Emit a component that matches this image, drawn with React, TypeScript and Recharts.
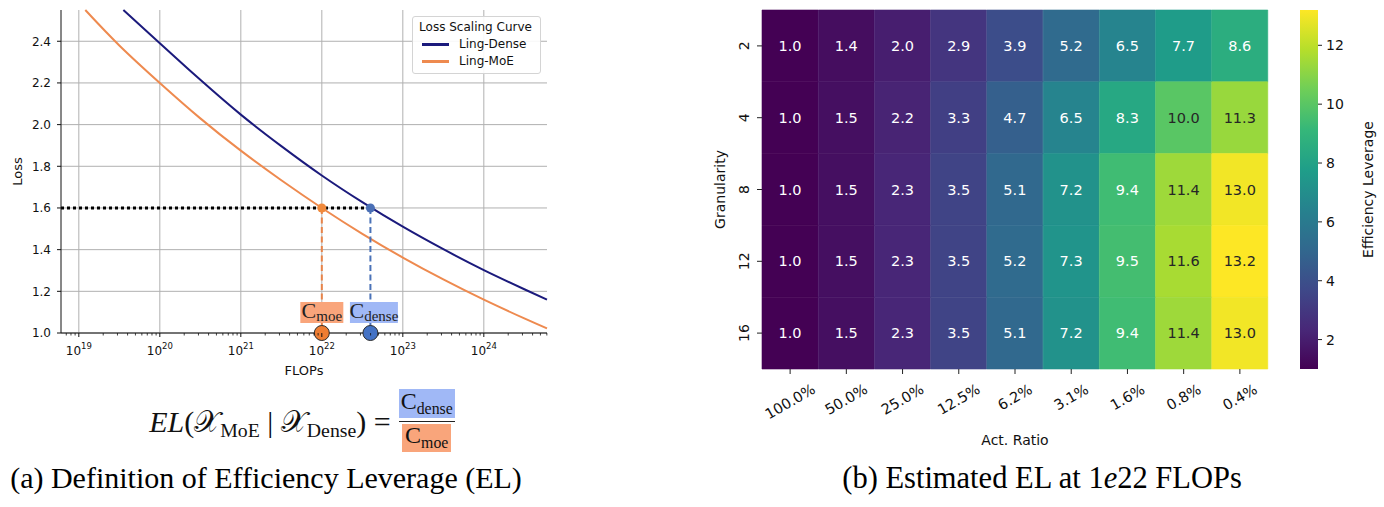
import React from "react";
import {
  ComposedChart,
  Line,
  XAxis,
  YAxis,
  CartesianGrid,
  ReferenceDot,
  Legend,
  BarChart,
  Bar,
  Cell,
  LabelList,
} from "recharts";

// ---- (a) loss scaling curves, x is log10(FLOPs)
const DENSE_LOG_FLOPS = [19.55, 20, 20.5, 21, 21.5, 22, 22.5, 23, 23.5, 24, 24.5, 24.78];
const DENSE_LOSS = [2.55, 2.39, 2.215, 2.048, 1.897, 1.756, 1.628, 1.51, 1.402, 1.302, 1.21, 1.16];
const MOE_LOG_FLOPS = [19.08, 19.5, 20, 20.5, 21, 21.5, 22, 22.5, 23, 23.5, 24, 24.5, 24.78];
const MOE_LOSS = [2.55, 2.38, 2.2, 2.03, 1.875, 1.733, 1.6, 1.476, 1.362, 1.257, 1.16, 1.07, 1.022];
const TARGET_LOSS = 1.6;
const C_MOE_LOG = 22;
const C_DENSE_LOG = 22.6;
const X_DOMAIN = [18.78, 24.78];
const Y_DOMAIN = [1.0, 2.55];
const X_MAJOR = [19, 20, 21, 22, 23, 24];
const Y_TICKS = [1.0, 1.2, 1.4, 1.6, 1.8, 2.0, 2.2, 2.4];

// ---- (b) efficiency leverage heatmap
const ACT_RATIOS = ["100.0%", "50.0%", "25.0%", "12.5%", "6.2%", "3.1%", "1.6%", "0.8%", "0.4%"];
const GRANULARITY = [2, 4, 8, 12, 16];
const EL_G2 = [1.0, 1.4, 2.0, 2.9, 3.9, 5.2, 6.5, 7.7, 8.6];
const EL_G4 = [1.0, 1.5, 2.2, 3.3, 4.7, 6.5, 8.3, 10.0, 11.3];
const EL_G8 = [1.0, 1.5, 2.3, 3.5, 5.1, 7.2, 9.4, 11.4, 13.0];
const EL_G12 = [1.0, 1.5, 2.3, 3.5, 5.2, 7.3, 9.5, 11.6, 13.2];
const EL_G16 = [1.0, 1.5, 2.3, 3.5, 5.1, 7.2, 9.4, 11.4, 13.0];
const CBAR_TICKS = [2, 4, 6, 8, 10, 12];

const EL_TABLE = [EL_G2, EL_G4, EL_G8, EL_G12, EL_G16];
const EL_MIN = Math.min(...EL_TABLE.flat());
const EL_MAX = Math.max(...EL_TABLE.flat());

const DENSE_COLOR = "#1b1a7c";
const MOE_COLOR = "#ee8a4f";
const SANS = "'DejaVu Sans', sans-serif";
const SERIF = "'Liberation Serif', 'DejaVu Serif', serif";
const INK = "#111";

const denseData = DENSE_LOG_FLOPS.map((x, i) => ({ x, loss: DENSE_LOSS[i] }));
const moeData = MOE_LOG_FLOPS.map((x, i) => ({ x, loss: MOE_LOSS[i] }));
const dottedData = [
  { x: X_DOMAIN[0], loss: TARGET_LOSS },
  { x: C_DENSE_LOG, loss: TARGET_LOSS },
];
const moeDrop = [
  { x: C_MOE_LOG, loss: TARGET_LOSS },
  { x: C_MOE_LOG, loss: Y_DOMAIN[0] },
];
const denseDrop = [
  { x: C_DENSE_LOG, loss: TARGET_LOSS },
  { x: C_DENSE_LOG, loss: Y_DOMAIN[0] },
];

// major + minor log ticks
const X_ALL_TICKS: number[] = [];
for (let n = 18; n <= 24; n++) {
  for (let k = 1; k <= 9; k++) {
    const v = n + Math.log10(k);
    if (v >= X_DOMAIN[0] && v <= X_DOMAIN[1]) X_ALL_TICKS.push(v);
  }
}

const VIRIDIS = ["#440154", "#482878", "#3e4989", "#31688e", "#26828e", "#1f9e89", "#35b779", "#6ece58", "#b5de2b", "#fde725"];

function hexToRgb(h: string) {
  return [1, 3, 5].map((i) => parseInt(h.slice(i, i + 2), 16));
}

function viridisRgb(v: number) {
  let t = (v - EL_MIN) / (EL_MAX - EL_MIN);
  t = Math.max(0, Math.min(1, t));
  const p = t * (VIRIDIS.length - 1);
  const i = Math.min(VIRIDIS.length - 2, Math.floor(p));
  const f = p - i;
  const a = hexToRgb(VIRIDIS[i]);
  const b = hexToRgb(VIRIDIS[i + 1]);
  return a.map((c, k) => Math.round(c + (b[k] - c) * f));
}

function viridis(v: number) {
  const [r, g, b] = viridisRgb(v);
  return `rgb(${r},${g},${b})`;
}

function textColorFor(v: number) {
  const lin = viridisRgb(v).map((c) => {
    const s = c / 255;
    return s <= 0.03928 ? s / 12.92 : Math.pow((s + 0.055) / 1.055, 2.4);
  });
  const lum = 0.2126 * lin[0] + 0.7152 * lin[1] + 0.0722 * lin[2];
  return lum > 0.408 ? "#262626" : "#ffffff";
}

const FlopsTick = (props: any) => {
  const { x, y, payload } = props;
  const v = payload.value;
  const major = Math.abs(v - Math.round(v)) < 1e-6;
  return (
    <g>
      <line x1={x} x2={x} y1={y} y2={y + (major ? 4 : 2.5)} stroke={INK} strokeWidth={major ? 1 : 0.8} />
      {major && (
        <text x={x} y={y + 22} textAnchor="middle" fontSize={12} fontFamily={SANS} fill={INK}>
          10
          <tspan dy={-6} fontSize={8.5}>
            {Math.round(v)}
          </tspan>
        </text>
      )}
    </g>
  );
};

const CostMarker = (props: any) => {
  const { cx, cy, fill, boxFill, sub, boxW, shift } = props;
  const bx = cx + shift;
  return (
    <g>
      <rect x={bx - boxW / 2} y={cy - 31} width={boxW} height={21} fill={boxFill} />
      <text x={bx} y={cy - 15} textAnchor="middle" fontFamily={SERIF} fontSize={22} fill="#222">
        C
        <tspan fontSize={15} dy={3}>
          {sub}
        </tspan>
      </text>
      <circle cx={cx} cy={cy} r={7.5} fill={fill} stroke="#2a2a2a" strokeWidth={1} />
    </g>
  );
};

const LegendBox = () => (
  <div
    style={{
      border: "1px solid #d4d4d4",
      borderRadius: 3,
      background: "rgba(255,255,255,0.9)",
      fontFamily: SANS,
      fontSize: 12,
      color: INK,
      padding: "2px 6px 3px 9px",
      lineHeight: "17px",
      boxSizing: "border-box",
    }}
  >
    <div style={{ textAlign: "center", marginLeft: -5 }}>Loss Scaling Curve</div>
    {[
      { name: "Ling-Dense", color: DENSE_COLOR },
      { name: "Ling-MoE", color: MOE_COLOR },
    ].map((e) => (
      <div key={e.name} style={{ display: "flex", alignItems: "center" }}>
        <span style={{ display: "inline-block", width: 27, height: 2.5, background: e.color, marginRight: 10 }} />
        <span>{e.name}</span>
      </div>
    ))}
  </div>
);

const charW: Record<string, number> = { ".": 0.318, "%": 0.95 };
function approxWidth(s: string, size: number) {
  return s.split("").reduce((w, ch) => w + (charW[ch] ?? 0.636), 0) * size;
}

const RatioTick = (props: any) => {
  const { x, y, payload } = props;
  const label = String(payload.value);
  const w = approxWidth(label, 14);
  const bboxH = w * 0.5 + 14 * 0.9;
  const cy = y + 8 + bboxH / 2;
  return (
    <text
      x={x}
      y={cy}
      transform={`rotate(-30 ${x} ${cy})`}
      textAnchor="middle"
      dominantBaseline="central"
      fontSize={14.5}
      fontFamily={SANS}
      fill={INK}
    >
      {label}
    </text>
  );
};

const GranTick = (props: any) => {
  const { x, y, payload } = props;
  const g = GRANULARITY[Math.floor(payload.value)];
  const cx = x - 13;
  return (
    <text
      x={cx}
      y={y}
      transform={`rotate(-90 ${cx} ${y})`}
      textAnchor="middle"
      dominantBaseline="central"
      fontSize={14}
      fontFamily={SANS}
      fill={INK}
    >
      {g}
    </text>
  );
};

const cellLabel = (row: number) => (props: any) => {
  const vb = props.viewBox ?? props;
  const cx = vb.x + vb.width / 2;
  const cy = vb.y + vb.height / 2;
  const v = EL_TABLE[row][props.index];
  if (v === undefined) return null;
  return (
    <text
      x={cx}
      y={cy}
      textAnchor="middle"
      dominantBaseline="central"
      fontSize={14.5}
      fontFamily={SANS}
      fill={textColorFor(v)}
    >
      {v.toFixed(1)}
    </text>
  );
};

const heatData = ACT_RATIOS.map((ratio) => {
  const row: Record<string, any> = { ratio };
  GRANULARITY.forEach((g) => (row[`g${g}`] = 1));
  return row;
});

const cbarData = [{ name: "el", range: [EL_MIN, EL_MAX] }];

const sub = (s: string) => (
  <span style={{ fontSize: "0.66em", position: "relative", top: "0.3em" }}>{s}</span>
);

export default function App() {
  return (
    <div style={{ position: "absolute", left: 0, top: 0, width: 1384, height: 507, background: "#fff", overflow: "hidden" }}>
      {/* (a) loss curves */}
      <div style={{ position: "absolute", left: 0, top: 0 }}>
        <ComposedChart width={560} height={390} margin={{ top: 10, right: 13, bottom: 0, left: 0 }}>
          <CartesianGrid stroke="#b0b0b0" strokeWidth={1} verticalValues={X_MAJOR} horizontalValues={Y_TICKS} />
          <XAxis
            type="number"
            dataKey="x"
            domain={X_DOMAIN}
            ticks={X_ALL_TICKS}
            interval={0}
            height={57}
            tickSize={0}
            tickMargin={0}
            tickLine={false}
            axisLine={{ stroke: INK, strokeWidth: 1 }}
            tick={<FlopsTick />}
            label={{
              content: (p: any) => (
                <text
                  x={p.viewBox.x + p.viewBox.width / 2}
                  y={p.viewBox.y + 42}
                  textAnchor="middle"
                  fontSize={13}
                  fontFamily={SANS}
                  fill={INK}
                >
                  FLOPs
                </text>
              ),
            }}
          />
          <YAxis
            type="number"
            domain={Y_DOMAIN}
            ticks={Y_TICKS}
            interval={0}
            width={61}
            tickSize={4}
            tickMargin={6}
            tickFormatter={(v: number) => v.toFixed(1)}
            tick={{ fontSize: 12, fontFamily: SANS, fill: INK }}
            tickLine={{ stroke: INK }}
            axisLine={{ stroke: INK, strokeWidth: 1 }}
            label={{
              content: (p: any) => {
                const cy = p.viewBox.y + p.viewBox.height / 2;
                return (
                  <text
                    x={17}
                    y={cy}
                    transform={`rotate(-90 17 ${cy})`}
                    textAnchor="middle"
                    dominantBaseline="central"
                    fontSize={13}
                    fontFamily={SANS}
                    fill={INK}
                  >
                    Loss
                  </text>
                );
              },
            }}
          />
          <Line data={denseData} dataKey="loss" type="natural" stroke={DENSE_COLOR} strokeWidth={2} dot={false} isAnimationActive={false} />
          <Line data={moeData} dataKey="loss" type="natural" stroke={MOE_COLOR} strokeWidth={2} dot={false} isAnimationActive={false} />
          <Line data={dottedData} dataKey="loss" stroke="#000" strokeWidth={3} strokeDasharray="3 3" dot={false} isAnimationActive={false} />
          <Line data={moeDrop} dataKey="loss" stroke="#e8844a" strokeWidth={2} strokeDasharray="6 3.5" dot={false} isAnimationActive={false} />
          <Line data={denseDrop} dataKey="loss" stroke="#4a72b8" strokeWidth={2} strokeDasharray="6 3.5" dot={false} isAnimationActive={false} />
          <ReferenceDot x={C_MOE_LOG} y={TARGET_LOSS} r={4.5} fill="#f08a3c" stroke="none" />
          <ReferenceDot x={C_DENSE_LOG} y={TARGET_LOSS} r={4.5} fill="#4a6fb5" stroke="none" />
          <ReferenceDot
            x={C_MOE_LOG}
            y={Y_DOMAIN[0]}
            r={7.5}
            shape={(p: any) => <CostMarker {...p} fill="#ee7d32" boxFill="#f9a57b" sub="moe" boxW={43} shift={0} />}
          />
          <ReferenceDot
            x={C_DENSE_LOG}
            y={Y_DOMAIN[0]}
            r={7.5}
            shape={(p: any) => <CostMarker {...p} fill="#4472c4" boxFill="#a0b8f6" sub="dense" boxW={48} shift={3.5} />}
          />
          <Legend
            layout="horizontal"
            verticalAlign="middle"
            align="center"
            wrapperStyle={{ left: 412, top: 16, width: 129 }}
            content={() => <LegendBox />}
          />
        </ComposedChart>
      </div>

      {/* EL formula */}
      <div
        style={{
          position: "absolute",
          left: 0,
          top: 389,
          width: 604,
          textAlign: "center",
          fontFamily: SERIF,
          fontSize: 30,
          color: INK,
          lineHeight: 1,
        }}
      >
        <span style={{ display: "inline-flex", alignItems: "center" }}>
          <span style={{ position: "relative", top: 1 }}>
            <i>EL</i>(<span>𝒳</span>
            {sub("MoE")} | <span>𝒳</span>
            {sub("Dense")}) ={" "}
          </span>
          <span style={{ display: "inline-flex", flexDirection: "column", alignItems: "center", marginLeft: 8 }}>
            <span style={{ background: "#a0b8f6", fontSize: 24, padding: "1px 2px 3px 2px", lineHeight: "23px" }}>
              C{sub("dense")}
            </span>
            <span style={{ alignSelf: "stretch", borderTop: "1px solid #222", margin: "3px 0 2px 0" }} />
            <span style={{ background: "#f9a57b", fontSize: 24, padding: "0 3px 3px 3px", lineHeight: "23px" }}>
              C{sub("moe")}
            </span>
          </span>
        </span>
      </div>

      {/* (b) heatmap */}
      <div style={{ position: "absolute", left: 700, top: 0 }}>
        <BarChart width={590} height={460} data={heatData} margin={{ top: 10, right: 22, bottom: 0, left: 0 }} barCategoryGap={0} barGap={0}>
          <XAxis
            dataKey="ratio"
            type="category"
            interval={0}
            height={91}
            tickSize={5}
            tickMargin={0}
            axisLine={false}
            tickLine={{ stroke: "#222" }}
            tick={<RatioTick />}
            label={{
              content: (p: any) => (
                <text
                  x={p.viewBox.x + p.viewBox.width / 2}
                  y={p.viewBox.y + 71}
                  textAnchor="middle"
                  dominantBaseline="central"
                  fontSize={14}
                  fontFamily={SANS}
                  fill={INK}
                >
                  Act. Ratio
                </text>
              ),
            }}
          />
          <YAxis
            type="number"
            domain={[0, GRANULARITY.length]}
            reversed
            ticks={GRANULARITY.map((_, i) => i + 0.5)}
            interval={0}
            width={62}
            tickSize={5}
            tickMargin={0}
            axisLine={false}
            tickLine={{ stroke: "#222" }}
            tick={<GranTick />}
            label={{
              content: (p: any) => {
                const cy = p.viewBox.y + p.viewBox.height / 2;
                return (
                  <text
                    x={20}
                    y={cy}
                    transform={`rotate(-90 20 ${cy})`}
                    textAnchor="middle"
                    dominantBaseline="central"
                    fontSize={14}
                    fontFamily={SANS}
                    fill={INK}
                  >
                    Granularity
                  </text>
                );
              },
            }}
          />
          {GRANULARITY.map((g, r) => (
            <Bar key={g} dataKey={`g${g}`} stackId="el" isAnimationActive={false}>
              {ACT_RATIOS.map((_, c) => (
                <Cell key={c} fill={viridis(EL_TABLE[r][c])} stroke={viridis(EL_TABLE[r][c])} strokeWidth={0.6} />
              ))}
              <LabelList content={cellLabel(r)} />
            </Bar>
          ))}
        </BarChart>
      </div>

      {/* colorbar */}
      <div style={{ position: "absolute", left: 1250, top: 0 }}>
        <BarChart width={134} height={460} data={cbarData} margin={{ top: 10, right: 0, bottom: 0, left: 50 }} barCategoryGap={0}>
          <defs>
            <linearGradient id="viridisGrad" x1="0" y1="1" x2="0" y2="0">
              {VIRIDIS.map((c, i) => (
                <stop key={i} offset={`${(i / (VIRIDIS.length - 1)) * 100}%`} stopColor={c} />
              ))}
            </linearGradient>
          </defs>
          <XAxis dataKey="name" height={91} tick={false} tickLine={false} axisLine={false} />
          <YAxis
            orientation="right"
            type="number"
            domain={[EL_MIN, EL_MAX]}
            ticks={CBAR_TICKS}
            interval={0}
            width={66}
            tickSize={4}
            tickMargin={4}
            axisLine={false}
            tickLine={{ stroke: "#222" }}
            tick={{ fontSize: 14, fontFamily: SANS, fill: INK, textAnchor: "start" }}
            label={{
              content: (p: any) => {
                const cy = p.viewBox.y + p.viewBox.height / 2;
                return (
                  <text
                    x={118}
                    y={cy}
                    transform={`rotate(-90 118 ${cy})`}
                    textAnchor="middle"
                    dominantBaseline="central"
                    fontSize={14}
                    fontFamily={SANS}
                    fill={INK}
                  >
                    Efficiency Leverage
                  </text>
                );
              },
            }}
          />
          <Bar dataKey="range" fill="url(#viridisGrad)" isAnimationActive={false} />
        </BarChart>
      </div>

      {/* captions */}
      <svg width={1384} height={507} style={{ position: "absolute", left: 0, top: 0, pointerEvents: "none" }}>
        <text x={266} y={488} textAnchor="middle" fontFamily={SERIF} fontSize={30} fill="#000">
          (a) Definition of Efficiency Leverage (EL)
        </text>
        <text x={1042} y={488} textAnchor="middle" fontFamily={SERIF} fontSize={30.5} fill="#000">
          (b) Estimated EL at 1<tspan fontStyle="italic">e</tspan>22 FLOPs
        </text>
      </svg>
    </div>
  );
}
